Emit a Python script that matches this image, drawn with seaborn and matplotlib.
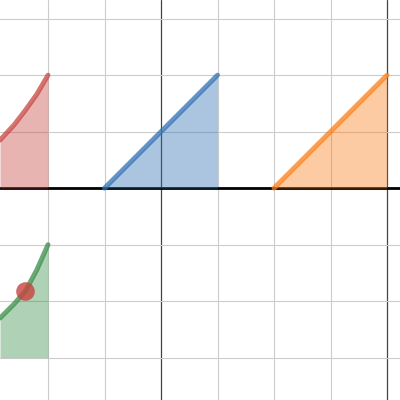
import matplotlib
matplotlib.use("Agg")
import matplotlib.pyplot as plt
import seaborn as sns
import numpy as np
import pandas as pd

red_x = [-2.85, -2.6, -2.4, -2.2, -2.0]
red_y = [0.85, 1.12, 1.38, 1.66, 2.0]
blue_x = [-1, 1]
blue_y = [0, 2]
orange_x = [2, 4]
orange_y = [0, 2]
green_x = [-2.85, -2.6, -2.4, -2.2, -2.0]
green_y = [-2.3, -2.05, -1.82, -1.45, -1.0]
green_base = -3
dot = (-2.4, -1.82)

sns.set_theme(style="white")
fig = plt.figure(figsize=(4, 4), dpi=100)
ax = fig.add_axes([0, 0, 1, 1])
ax.set_xlim(-2.85, 4.23)
ax.set_ylim(-3.75, 3.33)
for v in range(-2, 5):
    ax.axvline(v, color="#444444" if v % 4 == 0 else "#cccccc", lw=0.9 if v % 4 == 0 else 0.8, zorder=0)
for v in range(-3, 4):
    ax.axhline(v, color="#cccccc", lw=0.8, zorder=0)
ax.axhline(0, color="black", lw=2, zorder=1)

series = [(red_x, red_y, 0, "#c74440"), (blue_x, blue_y, 0, "#2d70b3"),
          (orange_x, orange_y, 0, "#fa7e19"), (green_x, green_y, green_base, "#388c46")]
for xs, ys, base, c in series:
    ax.fill_between(xs, ys, base, color=c, alpha=0.4, lw=0, zorder=2)
    sns.lineplot(x=xs, y=ys, ax=ax, color=c, lw=3.5, alpha=0.75, sort=False, zorder=3)
ax.scatter([dot[0]], [dot[1]], s=180, color="#c74440", alpha=0.8, zorder=4, lw=0)
ax.set_axis_off()
fig.savefig("out.png", dpi=100)
